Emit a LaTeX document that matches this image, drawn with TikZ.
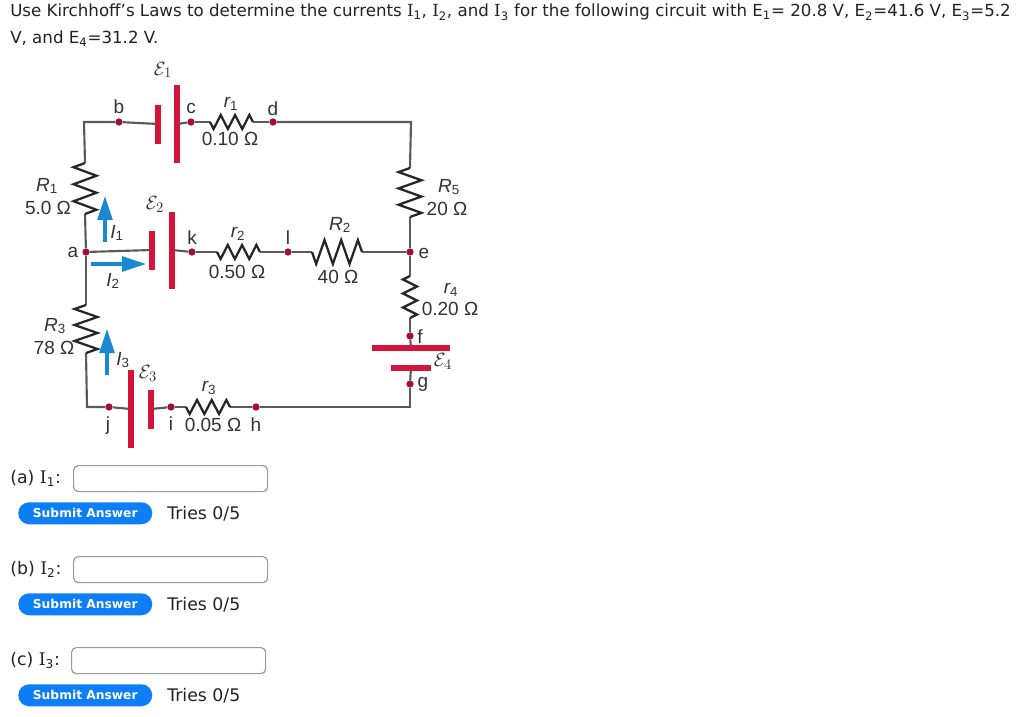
\documentclass[tikz,border=0pt]{standalone}
\usepackage{fontspec}
\setmainfont{DejaVu Sans}
\newfontfamily\cirfont{Liberation Sans}
\newfontfamily\serifI{DejaVu Serif}
\usetikzlibrary{arrows.meta}
\definecolor{wirec}{HTML}{5A5A5A}
\definecolor{platec}{HTML}{D5143C}
\definecolor{dotc}{HTML}{A01030}
\definecolor{arrowc}{HTML}{1A8AD0}
\definecolor{labc}{HTML}{333333}
\definecolor{btnc}{HTML}{0D7EF5}
\definecolor{boxc}{HTML}{9A9A9A}
\definecolor{txtc}{HTML}{222222}
\newcommand{\Isub}[1]{{\serifI I}\textsubscript{#1}}
\newcommand{\Esub}[1]{E\textsubscript{#1}}
\newcommand{\Lsub}[2]{{\itshape #1}\textsubscript{#2}}
\newcommand{\Emf}[1]{$\mathcal{E}_{#1}$}
\newcommand{\zigh}[3]{\draw[zigwire] (#1) -- ++({#2},{#3}) -- ++({2*#2},{-2*#3}) -- ++({2*#2},{2*#3}) -- ++({2*#2},{-2*#3}) -- ++({2*#2},{2*#3}) -- ++({2*#2},{-2*#3}) -- ++({#2},{#3});}
\newcommand{\zigv}[3]{\draw[zigwire] (#1) -- ++({#2},{#3}) -- ++({-2*#2},{2*#3}) -- ++({2*#2},{2*#3}) -- ++({-2*#2},{2*#3}) -- ++({2*#2},{2*#3}) -- ++({-2*#2},{2*#3}) -- ++({#2},{#3});}
\tikzset{
  wire/.style={draw=wirec,line width=1.6pt},
  zigwire/.style={draw=black!85,line width=1.7pt,line join=miter},
  junction/.style={circle,fill=dotc,inner sep=0pt,minimum size=5.5pt},
  vplate/.style={rectangle,fill=platec,inner sep=0pt,minimum width=3.8pt,minimum height=#1*0.75pt},
  hplate/.style={rectangle,fill=platec,inner sep=0pt,minimum height=3.8pt,minimum width=#1*0.75pt},
  cur/.style={draw=arrowc,line width=2.7pt,-{Triangle[length=18pt,width=11pt]}},
  lab/.style={font=\cirfont\fontsize{14.25}{16}\selectfont,text=labc,inner sep=0pt},
  emf/.style={font=\fontsize{15}{17}\selectfont,text=labc,inner sep=0pt},
  body/.style={font=\fontsize{13}{16}\selectfont,text=txtc,inner sep=0pt,anchor=base west},
  title/.style={font=\fontsize{12.5}{16}\selectfont,text=txtc,inner sep=0pt,anchor=base west},
  answer/.style={draw=boxc,line width=0.9pt,rounded corners=3.5pt,fill=white,minimum width=145.5pt,minimum height=19.5pt,inner sep=0pt,anchor=north west},
  submit/.style={fill=btnc,rounded corners=8.2pt,minimum width=100.5pt,minimum height=16.5pt,inner sep=0pt,text=white,font=\bfseries\fontsize{9.2}{12}\selectfont,anchor=north west},
}
\begin{document}
\begin{tikzpicture}[x=0.75pt,y=-0.75pt]
\useasboundingbox (0,0) rectangle (1024,717);
% question text
\node[title] (q1) at (10,17) {Use Kirchhoff’s Laws to determine the currents \Isub{1}, \Isub{2}, and \Isub{3} for the following circuit with \Esub{1}= 20.8 V, \Esub{2}=41.6 V, \Esub{3}=5.2};
\node[title] (q2) at (10,44) {V, and \Esub{4}=31.2 V.};
% corners and resistor ends
\coordinate (tl) at (84,122); \coordinate (tr) at (411,122);
\coordinate (bl) at (87,407); \coordinate (br) at (410,407);
\coordinate (r1a) at (210,122); \coordinate (r1b) at (253,122);
\coordinate (r2a) at (217,252); \coordinate (r2b) at (260,252);
\coordinate (r3a) at (186,407); \coordinate (r3b) at (230,407);
\coordinate (r4a) at (410,276); \coordinate (r4b) at (410,318);
\coordinate (R1a) at (85,163); \coordinate (R1b) at (85,214);
\coordinate (R2a) at (312,252); \coordinate (R2b) at (362,252);
\coordinate (R3a) at (86,305); \coordinate (R3b) at (86,353);
\coordinate (R5a) at (410,168); \coordinate (R5b) at (410,217);
% junctions
\node[junction] (a) at (86,252) {};
\node[junction] (b) at (119,122) {};
\node[junction] (c) at (191,122) {};
\node[junction] (d) at (273,122) {};
\node[junction] (e) at (410,252) {};
\node[junction] (f) at (410,336) {};
\node[junction] (g) at (410,384) {};
\node[junction] (h) at (256,407) {};
\node[junction] (i) at (171,407) {};
\node[junction] (j) at (109,407) {};
\node[junction] (k) at (192,252) {};
\node[junction] (l) at (288,252) {};
% battery plates
\node[vplate=39] (E1s) at (158,124) {};
\node[vplate=78] (E1l) at (177,124) {};
\node[vplate=39] (E2s) at (152,250) {};
\node[vplate=77] (E2l) at (172,250) {};
\node[vplate=78] (E3l) at (131,409) {};
\node[vplate=39] (E3s) at (151,409) {};
\node[hplate=78] (E4l) at (411,348) {};
\node[hplate=40] (E4s) at (411,368) {};
% wires
\draw[wire] (R1a) -- (tl) -- (b);
\draw[wire] (b) -- (E1s);
\draw[wire] (E1l) -- (c);
\draw[wire] (c) -- (r1a);
\draw[wire] (r1b) -- (d);
\draw[wire] (d) -- (tr) -- (R5a);
\draw[wire] (R5b) -- (e);
\draw[wire] (e) -- (r4a);
\draw[wire] (r4b) -- (f);
\draw[wire] (f) -- (E4l);
\draw[wire] (E4s) -- (g);
\draw[wire] (g) -- (br) -- (h);
\draw[wire] (h) -- (r3b);
\draw[wire] (r3a) -- (i);
\draw[wire] (i) -- (E3s);
\draw[wire] (E3l) -- (j);
\draw[wire] (j) -- (bl) -- (R3b);
\draw[wire] (R3a) -- (a);
\draw[wire] (a) -- (R1b);
\draw[wire] (a) -- (E2s);
\draw[wire] (E2l) -- (k);
\draw[wire] (k) -- (r2a);
\draw[wire] (r2b) -- (l);
\draw[wire] (l) -- (R2a);
\draw[wire] (R2b) -- (e);
% resistors
\zigh{r1a}{3.58}{7}
\zigh{r2a}{3.58}{7}
\zigh{r3a}{3.67}{7}
\zigh{R2a}{4.17}{12}
\zigv{R1a}{-11.5}{4.25}
\zigv{R3a}{-11.5}{4}
\zigv{R5a}{-11.5}{4.08}
\zigv{r4a}{-7}{3.5}
% current arrows
\coordinate (I1a) at (105,242); \coordinate (I1b) at (105,196);
\coordinate (I2a) at (91,264); \coordinate (I2b) at (146,264);
\coordinate (I3a) at (107,375); \coordinate (I3b) at (107,329);
\draw[cur] (I1a) -- (I1b);
\draw[cur] (I2a) -- (I2b);
\draw[cur] (I3a) -- (I3b);
% labels
\node[emf] (lE1) at (163,70) {\Emf{1}};
\node[emf] (lE2) at (155,204) {\Emf{2}};
\node[emf] (lE3) at (148,373) {\Emf{3}};
\node[emf] (lE4) at (443,361) {\Emf{4}};
\node[lab] (lb) at (119,107) {b};
\node[lab] (lc) at (191,108) {c};
\node[lab] (ld) at (273,109) {d};
\node[lab] (lr1) at (231,104) {\Lsub{r}{1}};
\node[lab] (v1) at (230,139) {0.10 Ω};
\node[lab] (lR1) at (47,186) {\Lsub{R}{1}};
\node[lab] (v2) at (48,208) {5.0 Ω};
\node[lab] (la) at (73,252) {a};
\node[lab] (lI1) at (117,233) {\Lsub{I}{1}};
\node[lab] (lI2) at (113,281) {\Lsub{I}{2}};
\node[lab] (lk) at (192,238) {k};
\node[lab] (lr2) at (238,234) {\Lsub{r}{2}};
\node[lab] (v3) at (237,272) {0.50 Ω};
\node[lab] (ll) at (288,238) {l};
\node[lab] (lR2) at (340,225) {\Lsub{R}{2}};
\node[lab] (v4) at (338,277) {40 Ω};
\node[lab] (le) at (424,253) {e};
\node[lab] (lR5) at (449,187) {\Lsub{R}{5}};
\node[lab] (v5) at (447,209) {20 Ω};
\node[lab] (lr4) at (451,290) {\Lsub{r}{4}};
\node[lab] (v6) at (450,309) {0.20 Ω};
\node[lab] (lf) at (420,337) {f};
\node[lab] (lg) at (423,384) {g};
\node[lab] (lR3) at (55,326) {\Lsub{R}{3}};
\node[lab] (v7) at (54,348) {78 Ω};
\node[lab] (lI3) at (123,360) {\Lsub{I}{3}};
\node[lab] (lr3) at (209,388) {\Lsub{r}{3}};
\node[lab] (lj) at (108,426) {j};
\node[lab] (li) at (171,424) {i};
\node[lab] (v8) at (213,425) {0.05 Ω};
\node[lab] (lh) at (256,425) {h};
% answer widgets
\node[body] (qa) at (10,483) {(a) \Isub{1}:};
\node[answer] (boxa) at (73,465) {};
\node[submit] (btna) at (18,502) {Submit Answer};
\node[body] (ta) at (167,519) {Tries 0/5};
\node[body] (qb) at (10,574) {(b) \Isub{2}:};
\node[answer] (boxb) at (73,556) {};
\node[submit] (btnb) at (18,593) {Submit Answer};
\node[body] (tb) at (167,610) {Tries 0/5};
\node[body] (qc) at (10,665) {(c) \Isub{3}:};
\node[answer] (boxc) at (71,647) {};
\node[submit] (btnc) at (18,684) {Submit Answer};
\node[body] (tc) at (167,701) {Tries 0/5};
\end{tikzpicture}
\end{document}
